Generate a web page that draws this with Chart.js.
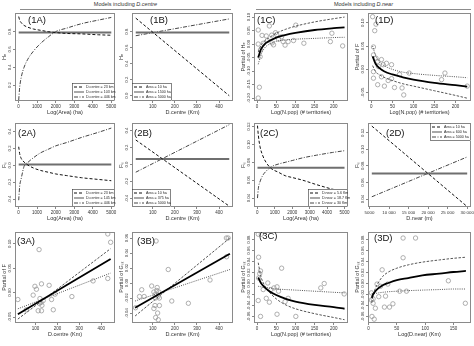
<!DOCTYPE html>
<html>
<head>
<meta charset="utf-8">
<script src="https://cdn.jsdelivr.net/npm/chart.js@4.4.0/dist/chart.umd.min.js"></script>
<style>
body { margin: 0; background: #fff; width: 474px; height: 346px; position: relative; overflow: hidden; font-family: "Liberation Sans", Arial, sans-serif; }
canvas { position: absolute; }
.hd { position: absolute; font-size: 5.5px; color: #333; text-align: center; white-space: nowrap; }
.rule { position: absolute; height: 1.3px; background: #8c8c8c; }
</style>
</head>
<body>
<div class="hd" style="left:20px;width:211px;top:1px">Models including <i>D.centre</i></div>
<div class="rule" style="left:20px;width:211px;top:9px"></div>
<div class="hd" style="left:256px;width:215px;top:1px">Models including <i>D.near</i></div>
<div class="rule" style="left:256px;width:215px;top:9px"></div>
<script>
// x grids shared by the curves
var areaX = [10, 60, 150, 300, 500, 800, 1200, 1600, 2000, 2600, 3400, 4300, 5000]
var areaEnds = [10, 5000]
var dcEnds = [23, 446]
var dnEnds = [5600, 30000]
var npopX = [3, 10, 20, 30, 50, 75, 100, 150, 200, 228]
var lognearX = [5.6, 8, 12, 18, 25, 35, 50, 70, 95, 125, 150, 172]

// tick values / labels
var areaTicks = [0, 1000, 2000, 3000, 4000, 5000]
var dcTicks = [100, 200, 300, 400]
var npopTicks = [0, 50, 100, 150, 200]
var dnTicks = [5000, 10000, 15000, 20000, 25000, 30000]
var dnTickLabels = ["5000", "10 000", "15 000", "20 000", "25 000", "30 000"]
var lognearTicks = [0, 50, 100, 150]

// ---- 1A : He vs area
var he1A_dc23 = [0.97, 0.93, 0.90, 0.87, 0.85, 0.83, 0.815, 0.80, 0.79, 0.78, 0.775, 0.765, 0.76]
var he1A_dc103 = [0.79, 0.79]
var he1A_dc446 = [0.03, 0.17, 0.29, 0.40, 0.49, 0.58, 0.67, 0.74, 0.80, 0.84, 0.89, 0.93, 0.96]
// ---- 1B : He vs D.centre
var he1B_a10 = [0.97, 0.0]
var he1B_a1500 = [0.79, 0.79]
var he1B_a5000 = [0.75, 0.96]
// ---- 1C : partial He vs N.pop
var he1C_fit = [-0.05, -0.02, 0.0, 0.01, 0.024, 0.034, 0.041, 0.052, 0.059, 0.062]
var he1C_up = [-0.03, -0.005, 0.012, 0.022, 0.04, 0.055, 0.066, 0.082, 0.094, 0.10]
var he1C_lo = [-0.075, -0.04, -0.014, -0.002, 0.01, 0.015, 0.018, 0.021, 0.024, 0.025]
var pts1C_x = [3, 32, 24, 48, 51, 38, 64, 56, 68, 73, 101, 95, 122, 191, 195, 223, 3, 9, 8, 6, 3, 16, 27, 39, 43, 81, 13]
var pts1C_y = [0.052, 0.067, 0.03, 0.042, 0.035, 0.033, 0.027, 0.018, 0.009, -0.004, 0.07, 0.013, 0.003, 0.009, 0.04, -0.007, 0.0, -0.022, -0.047, -0.16, -0.2, 0.003, 0.013, 0.004, -0.003, 0.009, 0.032]
// ---- 1D : partial F vs N.pop
var f1D_fit = [0.028, 0.012, 0.002, -0.004, -0.011, -0.017, -0.022, -0.029, -0.034, -0.037]
var f1D_up = [0.05, 0.03, 0.015, 0.008, 0.0, -0.006, -0.009, -0.013, -0.016, -0.018]
var f1D_lo = [0.008, -0.005, -0.012, -0.017, -0.024, -0.031, -0.036, -0.046, -0.056, -0.062]
var pts1D_x = [3, 11, 8, 5, 11, 15, 24, 28, 36, 48, 5, 5, 15, 24, 31, 40, 48, 55, 67, 73, 90, 77, 175, 167, 228, 5, 17]
var pts1D_y = [0.113, 0.097, 0.083, 0.031, 0.024, 0.017, 0.021, 0.01, 0.013, 0.01, -0.005, -0.019, -0.033, -0.016, -0.036, -0.024, -0.02, -0.039, -0.011, -0.04, -0.008, -0.055, -0.008, -0.022, -0.036, 0.048, 0.006]
// ---- 2A : Fis vs area
var f2A_dc23 = [0.22, 0.14, 0.08, 0.04, 0.005, -0.03, -0.06, -0.08, -0.10, -0.12, -0.145, -0.165, -0.18]
var f2A_dc145 = [0.01, 0.01]
var f2A_dc446 = [-0.41, -0.25, -0.15, -0.01, 0.035, 0.09, 0.15, 0.19, 0.23, 0.27, 0.33, 0.39, 0.44]
// ---- 2B : Fis vs D.centre
var f2B_a10 = [0.29, -0.49]
var f2B_a375 = [0.065, 0.065]
var f2B_a5000 = [-0.09, 0.47]
// ---- 2C : Fis vs area (D.near models)
var f2C_dn56 = [0.121, 0.110, 0.098, 0.088, 0.080, 0.073, 0.069, 0.065, 0.063, 0.060, 0.055, 0.050, 0.047]
var f2C_dn187 = [0.074, 0.074]
var f2C_dn30 = [0.040, 0.051, 0.058, 0.065, 0.070, 0.075, 0.078, 0.080, 0.082, 0.085, 0.088, 0.091, 0.093]
// ---- 2D : Fis vs D.near
var f2D_a10 = [0.128, 0.031]
var f2D_a600 = [0.0708, 0.0708]
var f2D_a5000 = [0.0428, 0.0908]
// ---- 3A : partial F vs D.centre
var fit3A_x = [19, 443]
var f3A_fit = [-0.044, 0.069]
var f3A_up = [-0.054, 0.09]
var f3A_lo = [-0.033, 0.04]
var pts3A_x = [430, 443, 116, 430, 363, 97, 162, 127, 104, 89, 189, 266, 19, 125, 120, 135, 173, 112, 127, 181, 58, 129, 118]
var pts3A_y = [0.12, 0.103, 0.088, 0.029, 0.024, 0.013, 0.015, 0.018, 0.007, -0.005, -0.003, -0.008, -0.014, -0.02, -0.012, -0.016, -0.014, -0.037, -0.037, -0.035, -0.035, -0.026, -0.022]
// ---- 3B : partial Gst vs D.centre
var fit3B_x = [20, 449]
var g3B_fit = [-0.033, 0.039]
var g3B_up = [-0.044, 0.06]
var g3B_lo = [-0.024, 0.018]
var pts3B_x = [433, 441, 115, 170, 434, 359, 50, 95, 105, 112, 118, 124, 112, 130, 186, 61, 261, 110, 105, 122, 113, 125, 22, 40, 130, 120, 128]
var pts3B_y = [0.06, 0.06, 0.056, 0.018, 0.035, 0.004, -0.009, -0.004, -0.012, -0.015, -0.01, -0.018, -0.02, -0.02, -0.024, -0.018, -0.027, -0.03, -0.034, -0.04, -0.046, -0.049, -0.033, -0.018, -0.03, -0.006, -0.012]
// ---- 3C : partial Gst vs N.pop
var g3C_fit = [0.011, 0.001, -0.007, -0.013, -0.021, -0.028, -0.033, -0.039, -0.043, -0.046]
var g3C_lo = [0.038, 0.013, -0.004, -0.014, -0.028, -0.039, -0.046, -0.055, -0.062, -0.066]
var g3C_up = [-0.005, -0.006, -0.007, -0.008, -0.010, -0.011, -0.012, -0.014, -0.016, -0.017]
var pts3C_x = [3, 11, 4, 9, 7, 4, 64, 28, 36, 44, 52, 56, 24, 32, 3, 9, 52, 101, 166, 175, 227, 81, 73, 16]
var pts3C_y = [0.09, 0.09, 0.048, 0.023, 0.018, 0.01, 0.028, 0.001, -0.011, -0.008, -0.006, -0.014, -0.027, -0.034, -0.031, -0.06, -0.056, -0.06, -0.008, 0.0, -0.019, -0.027, -0.033, -0.011]
// ---- 3D : partial Gst vs log D.near
var g3D_fit = [-0.026, -0.02, -0.014, -0.008, -0.003, 0.001, 0.006, 0.010, 0.015, 0.018, 0.021, 0.023]
var g3D_up = [-0.035, -0.022, -0.009, 0.003, 0.013, 0.021, 0.028, 0.034, 0.039, 0.043, 0.046, 0.048]
var g3D_lo = [-0.018, -0.018, -0.018, -0.017, -0.016, -0.015, -0.014, -0.013, -0.012, -0.011, -0.010, -0.010]
var pts3D_x = [61, 83, 61, 24, 15, 34, 21, 5, 5, 8, 12, 18, 28, 37, 43, 55, 67, 141, 171, 6, 10, 8, 30]
var pts3D_y = [0.083, 0.083, 0.047, 0.025, -0.001, -0.001, -0.005, -0.017, -0.03, -0.036, -0.045, -0.024, -0.043, -0.043, -0.037, -0.014, -0.014, 0.005, -0.036, -0.06, -0.065, -0.028, -0.023]

// panel box edges in the page
var ROWS = [[13, 101], [123, 207], [232, 323]]
var COLS = [[15, 115], [132, 233], [254, 348], [368, 471]]

var FONT = '"Liberation Sans", Arial, sans-serif'
Chart.defaults.font.family = FONT
Chart.defaults.color = "#333"

var DASH = { borderColor: "#111", borderWidth: 1, borderDash: [3, 2] }
var SOLIDG = { borderColor: "#6f6f6f", borderWidth: 2 }
var DOTDASH = { borderColor: "#444", borderWidth: 1, borderDash: [4, 1.5, 1, 1.5] }
var FIT = { borderColor: "#000", borderWidth: 1.8 }
var CIDASH = { borderColor: "#555", borderWidth: 1, borderDash: [2.5, 1.5] }
var CIDOT = { borderColor: "#555", borderWidth: 1, borderDash: [1, 1.2] }

function xy(xs, ys) {
    return xs.map(function (x, i) { return { x: x, y: ys[i] } })
}

function line(label, xs, ys, style) {
    return Object.assign({ label: label, data: xy(xs, ys), pointRadius: 0, cubicInterpolationMode: "monotone", fill: false }, style)
}

function dots(xs, ys) {
    return {
        label: "", data: xy(xs, ys), showLine: false, pointRadius: 2.2, pointBorderWidth: 0.8,
        pointBorderColor: "#9a9a9a", pointBackgroundColor: "rgba(0,0,0,0)"
    }
}

function fmt(v) { return String(v) }

// box, rotated y tick labels, panel tag and inset legend
var rPlot = {
    id: "rplot",
    afterDraw: function (chart, args, o) {
        var ctx = chart.ctx, a = chart.chartArea
        ctx.save()
        ctx.strokeStyle = "#8a8a8a"
        ctx.lineWidth = 1
        ctx.strokeRect(a.left + 0.5, a.top + 0.5, a.width - 1, a.height - 1)

        var ys = chart.scales.y
        ctx.fillStyle = "#333"
        ctx.font = "4.3px " + FONT
        ctx.textAlign = "center"
        ctx.textBaseline = "middle"
        ys.ticks.forEach(function (t) {
            ctx.save()
            ctx.translate(a.left - 5, ys.getPixelForValue(t.value))
            ctx.rotate(-Math.PI / 2)
            ctx.fillText(t.label, 0, 0)
            ctx.restore()
        })

        ctx.font = "9.5px " + FONT
        ctx.fillStyle = "#111"
        ctx.textAlign = "left"
        ctx.textBaseline = "top"
        ctx.fillText(o.tag, a.left + o.tagX, a.top + o.tagY)

        if (o.legend) {
            var items = chart.data.datasets.filter(function (d) { return d.label })
            var w = o.legend.w, h = items.length * 5 + 3
            var x0 = o.legend.pos.indexOf("r") >= 0 ? a.right - w : a.left
            var y0 = o.legend.pos.indexOf("b") >= 0 ? a.bottom - h : a.top
            ctx.fillStyle = "#fff"
            ctx.fillRect(x0, y0, w, h)
            ctx.strokeStyle = "#333"
            ctx.lineWidth = 0.6
            ctx.strokeRect(x0 + 0.5, y0 + 0.5, w - 1, h - 1)
            items.forEach(function (d, i) {
                var yy = y0 + 4 + i * 5
                ctx.beginPath()
                ctx.setLineDash(d.borderDash || [])
                ctx.strokeStyle = d.borderColor
                ctx.lineWidth = Math.min(d.borderWidth, 1.2)
                ctx.moveTo(x0 + 2, yy)
                ctx.lineTo(x0 + 12, yy)
                ctx.stroke()
                ctx.setLineDash([])
                ctx.fillStyle = "#222"
                ctx.font = "3.6px " + FONT
                ctx.textAlign = "left"
                ctx.textBaseline = "middle"
                ctx.fillText(d.label, x0 + 14, yy)
            })
        }
        ctx.restore()
    }
}

function panel(p) {
    var l = COLS[p.col][0], r = COLS[p.col][1]
    var t = ROWS[p.row][0], b = ROWS[p.row][1]
    var c = document.createElement("canvas")
    c.width = r - l + 19
    c.height = b - t + 17
    c.style.left = (l - 14) + "px"
    c.style.top = (t - 2) + "px"
    document.body.appendChild(c)
    var xl = p.xl || p.xt.map(fmt)

    return new Chart(c, {
        type: "line",
        data: { datasets: p.sets },
        options: {
            responsive: false,
            animation: false,
            events: [],
            layout: { autoPadding: false, padding: { left: 0, top: 2, right: 5, bottom: 0 } },
            plugins: {
                legend: { display: false },
                tooltip: { enabled: false },
                rplot: { tag: p.tag, tagX: p.tagX, tagY: p.tagY, legend: p.legend }
            },
            scales: {
                x: {
                    type: "linear", min: p.xr[0], max: p.xr[1],
                    afterBuildTicks: function (s) { s.ticks = p.xt.map(function (v) { return { value: v } }) },
                    afterFit: function (s) { s.height = 15; s.paddingLeft = 0; s.paddingRight = 0 },
                    ticks: { callback: function (v, i) { return xl[i] }, font: { size: p.xf || 4.5 }, padding: 0.8, maxRotation: 0, autoSkip: false, color: "#333" },
                    grid: { drawOnChartArea: false, tickLength: 2, color: "#888" },
                    border: { display: false },
                    title: { display: true, text: p.xTitle, font: { size: 5.5 }, padding: 0, color: "#333" }
                },
                y: {
                    type: "linear", min: p.yr[0], max: p.yr[1],
                    afterBuildTicks: function (s) { s.ticks = p.yt.map(function (v) { return { value: v } }) },
                    afterFit: function (s) { s.width = 14; s.paddingTop = 0; s.paddingBottom = 0 },
                    ticks: { display: false, callback: function (v, i) { return p.yl[i] } },
                    grid: { drawOnChartArea: false, tickLength: 2, color: "#888" },
                    border: { display: false },
                    title: { display: true, text: p.yTitle, font: { size: 5.5 }, padding: { top: 0.5, bottom: 0 }, color: "#333" }
                }
            }
        },
        plugins: [rPlot]
    })
}

var yt1A = [0.2, 0.4, 0.6, 0.8], yl1A = ["0.2", "0.4", "0.6", "0.8"]
var yt1B = [0, 0.2, 0.4, 0.6, 0.8], yl1B = ["0.0", "0.2", "0.4", "0.6", "0.8"]
var yt1C = [-0.2, -0.15, -0.1, -0.05, 0, 0.05, 0.1], yl1C = ["-0.20", "-0.15", "-0.10", "-0.05", "0.00", "0.05", "0.10"]
var yt1D = [-0.05, 0, 0.05, 0.1], yl1D = ["-0.05", "0.00", "0.05", "0.10"]
var yt2AB = [-0.4, -0.2, 0, 0.2, 0.4], yl2AB = ["-0.4", "-0.2", "0.0", "0.2", "0.4"]
var yt2CD = [0.04, 0.06, 0.08, 0.10, 0.12], yl2CD = ["0.04", "0.06", "0.08", "0.10", "0.12"]
var yt3A = [-0.05, 0, 0.05, 0.1], yl3A = ["-0.05", "0.00", "0.05", "0.10"]
var yt3B = [-0.04, -0.02, 0, 0.02, 0.04, 0.06], yl3B = ["-0.04", "-0.02", "0.00", "0.02", "0.04", "0.06"]
var yt3CD = [-0.06, -0.04, -0.02, 0, 0.02, 0.04, 0.06, 0.08], yl3CD = ["-0.06", "-0.04", "-0.02", "0.00", "0.02", "0.04", "0.06", "0.08"]

var AREA_R = [-190, 5200], DC_R = [6, 463], NPOP_R = [-8, 237], DN_R = [4624, 30976], LN_R = [-1, 181]

panel({ row: 0, col: 0, tag: "(1A)", tagX: 13, tagY: 3, xr: AREA_R, xt: areaTicks, yr: [0.02, 1.01], yt: yt1A, yl: yl1A,
    xTitle: "Log(Area) (ha)", yTitle: "Hₑ", legend: { pos: "br", w: 43 },
    sets: [line("D.centre = 23 km", areaX, he1A_dc23, DASH), line("D.centre = 103 km", areaEnds, he1A_dc103, SOLIDG), line("D.centre = 446 km", areaX, he1A_dc446, DOTDASH)] })
panel({ row: 0, col: 1, tag: "(1B)", tagX: 18, tagY: 3, xr: DC_R, xt: dcTicks, yr: [-0.066, 1.034], yt: yt1B, yl: yl1B,
    xTitle: "D.centre (Km)", yTitle: "Hₑ", legend: { pos: "bl", w: 40 },
    sets: [line("Area = 10 ha", dcEnds, he1B_a10, DASH), line("Area = 1500 ha", dcEnds, he1B_a1500, SOLIDG), line("Area = 5000 ha", dcEnds, he1B_a5000, DOTDASH)] })
panel({ row: 0, col: 2, tag: "(1C)", tagX: 3, tagY: 3, xr: NPOP_R, xt: npopTicks, yr: [-0.211, 0.115], yt: yt1C, yl: yl1C,
    xTitle: "Log(N.pop) (# territories)", yTitle: "Partial of Hₑ",
    sets: [line("", npopX, he1C_fit, FIT), line("", npopX, he1C_up, CIDASH), line("", npopX, he1C_lo, CIDOT), dots(pts1C_x, pts1C_y)] })
panel({ row: 0, col: 3, tag: "(1D)", tagX: 7, tagY: 3, xr: NPOP_R, xt: npopTicks, yr: [-0.068, 0.121], yt: yt1D, yl: yl1D,
    xTitle: "Log(N.pop) (# territories)", yTitle: "Partial of F",
    sets: [line("", npopX, f1D_fit, FIT), line("", npopX, f1D_up, CIDOT), line("", npopX, f1D_lo, CIDASH), dots(pts1D_x, pts1D_y)] })

panel({ row: 1, col: 0, tag: "(2A)", tagX: 3, tagY: 6, xr: AREA_R, xt: areaTicks, yr: [-0.49, 0.5], yt: yt2AB, yl: yl2AB,
    xTitle: "Log(Area) (ha)", yTitle: "Fᵢₛ", legend: { pos: "br", w: 43 },
    sets: [line("D.centre = 23 km", areaX, f2A_dc23, DASH), line("D.centre = 145 km", areaEnds, f2A_dc145, SOLIDG), line("D.centre = 446 km", areaX, f2A_dc446, DOTDASH)] })
panel({ row: 1, col: 1, tag: "(2B)", tagX: 2, tagY: 6, xr: DC_R, xt: dcTicks, yr: [-0.5, 0.49], yt: yt2AB, yl: yl2AB,
    xTitle: "D.centre (Km)", yTitle: "Fᵢₛ", legend: { pos: "bl", w: 39 },
    sets: [line("Area = 10 ha", dcEnds, f2B_a10, DASH), line("Area = 375 ha", dcEnds, f2B_a375, SOLIDG), line("Area = 5000 ha", dcEnds, f2B_a5000, DOTDASH)] })
panel({ row: 1, col: 2, tag: "(2C)", tagX: 6, tagY: 6, xr: AREA_R, xt: areaTicks, yr: [0.03, 0.124], yt: yt2CD, yl: yl2CD,
    xTitle: "Log(Area) (ha)", yTitle: "Fᵢₛ", legend: { pos: "br", w: 40 },
    sets: [line("D.near = 5.6 Km", areaX, f2C_dn56, DASH), line("D.near = 18.7 Km", areaEnds, f2C_dn187, SOLIDG), line("D.near = 30 Km", areaX, f2C_dn30, DOTDASH)] })
panel({ row: 1, col: 3, tag: "(2D)", tagX: 18, tagY: 6, xr: DN_R, xt: dnTicks, xl: dnTickLabels, xf: 4.4, yr: [0.0305, 0.1317], yt: yt2CD, yl: yl2CD,
    xTitle: "D.near (m)", yTitle: "Fᵢₛ", legend: { pos: "tr", w: 41 },
    sets: [line("Area = 10 ha", dnEnds, f2D_a10, DASH), line("Area = 600 ha", dnEnds, f2D_a600, SOLIDG), line("Area = 5000 ha", dnEnds, f2D_a5000, DOTDASH)] })

panel({ row: 2, col: 0, tag: "(3A)", tagX: 2, tagY: 5, xr: DC_R, xt: dcTicks, yr: [-0.062, 0.124], yt: yt3A, yl: yl3A,
    xTitle: "D.centre (Km)", yTitle: "Partial of F",
    sets: [line("", fit3A_x, f3A_fit, FIT), line("", fit3A_x, f3A_up, CIDASH), line("", fit3A_x, f3A_lo, CIDOT), dots(pts3A_x, pts3A_y)] })
panel({ row: 2, col: 1, tag: "(3B)", tagX: 5, tagY: 5, xr: DC_R, xt: dcTicks, yr: [-0.0533, 0.068], yt: yt3B, yl: yl3B,
    xTitle: "D.centre (Km)", yTitle: "Partial of Gₛₜ",
    sets: [line("", fit3B_x, g3B_fit, FIT), line("", fit3B_x, g3B_up, CIDASH), line("", fit3B_x, g3B_lo, CIDOT), dots(pts3B_x, pts3B_y)] })
panel({ row: 2, col: 2, tag: "(3C)", tagX: 5, tagY: 0, xr: NPOP_R, xt: npopTicks, yr: [-0.072, 0.094], yt: yt3CD, yl: yl3CD,
    xTitle: "Log(N.pop) (# territories)", yTitle: "Partial of Gₛₜ",
    sets: [line("", npopX, g3C_fit, FIT), line("", npopX, g3C_lo, CIDASH), line("", npopX, g3C_up, CIDOT), dots(pts3C_x, pts3C_y)] })
panel({ row: 2, col: 3, tag: "(3D)", tagX: 6, tagY: 2, xr: LN_R, xt: lognearTicks, yr: [-0.072, 0.094], yt: yt3CD, yl: yl3CD,
    xTitle: "Log(D.near) (Km)", yTitle: "Partial of Gₛₜ",
    sets: [line("", lognearX, g3D_fit, FIT), line("", lognearX, g3D_up, CIDASH), line("", lognearX, g3D_lo, CIDOT), dots(pts3D_x, pts3D_y)] })
</script>
</body>
</html>
